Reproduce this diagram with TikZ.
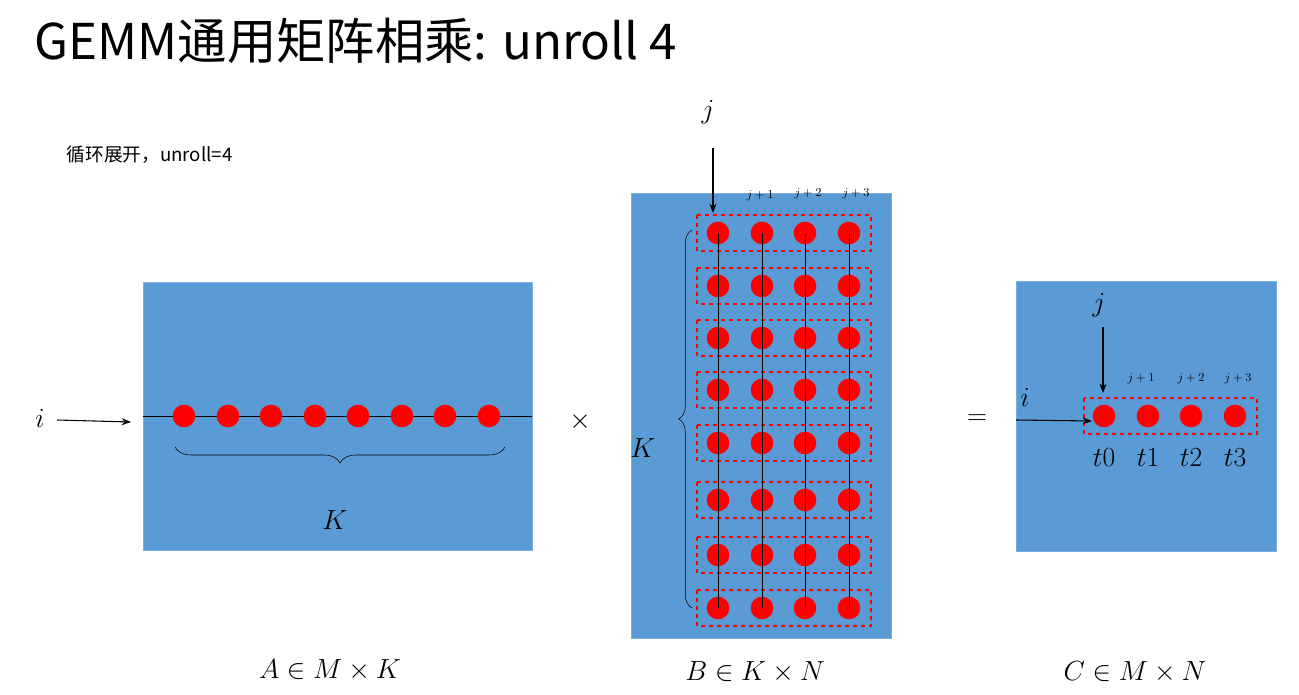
\documentclass[tikz,border=0pt]{standalone}
\usepackage{fontspec}
\setmainfont{Noto Sans CJK SC}
\usetikzlibrary{decorations.pathreplacing,arrows.meta}
\definecolor{mblue}{HTML}{5B9BD5}
\begin{document}
\begin{tikzpicture}[x=0.75pt,y=-0.75pt,
  mat/.style={fill=mblue,draw=mblue!80!white},
  dot/.style={circle,fill=red,inner sep=0pt,minimum size=17pt},
  dbox/.style={draw=red,dashed,thick},
  arr/.style={-{Stealth[length=7pt]},thick},
  lbl/.style={font=\fontsize{20}{22}\selectfont},
  sm/.style={font=\fontsize{9}{10}\selectfont}]
\useasboundingbox (0,0) rectangle (1299,695);
\node[anchor=base west,font=\fontsize{37}{40}\selectfont] (title) at (30,60) {GEMM通用矩阵相乘: unroll 4};
\node[anchor=base west,font=\fontsize{14}{16}\selectfont] (note) at (62,162) {循环展开，unroll=4};
% A
\node[mat,minimum width=389*0.75pt,minimum height=268*0.75pt,inner sep=0pt,anchor=north west] (A) at (143,282) {};
\draw (143,416) -- (532,416);
\foreach \x [count=\k] in {184,228,271,315,358,402,445,489}{\node[dot] (a\k) at (\x,416) {};}
\draw[decorate,decoration={brace,amplitude=12pt,mirror}] (175,447) -- (505,447);
\node[lbl] (KA) at (335,520) {$K$};
\node[lbl] (iA) at (40,418) {$i$};
\coordinate (iAe) at (131,422);
\draw[arr] (57,420) -- (iAe);
\node[lbl] (times) at (580,422) {$\times$};
% B
\node[mat,minimum width=260*0.75pt,minimum height=445*0.75pt,inner sep=0pt,anchor=north west] (B) at (631,193) {};
\foreach \y [count=\r] in {233,286,338,390,443,500,555,608}{
  \draw[dbox] (697,\y-18) rectangle (871,\y+18);
  \foreach \x [count=\c] in {718,762,805,849}{\node[dot] (b\r\c) at (\x,\y) {};}
}
\foreach \c in {1,2,3,4}{\draw (b1\c.center) -- (b8\c.center);}
\draw[decorate,decoration={brace,amplitude=10pt}] (692,608) -- (692,230);
\node[lbl] (KB) at (643,448) {$K$};
\node[lbl] (jB) at (708,112) {$j$};
\coordinate (jBs) at (713,148);
\draw[arr] (jBs) -- (713,213);
\node[sm] at (760,196) {$j+1$};
\node[sm] at (808,194) {$j+2$};
\node[sm] at (856,194) {$j+3$};
\node[lbl] (eq) at (977,420) {$=$};
% C
\node[mat,minimum width=260*0.75pt,minimum height=270*0.75pt,inner sep=0pt,anchor=north west] (C) at (1016,281) {};
\draw[dbox] (1084,398) rectangle (1257,434);
\foreach \x [count=\k] in {1104,1148,1191,1235}{\node[dot] (c\k) at (\x,416) {};}
\foreach \x [count=\k from 0] in {1104,1148,1191,1235}{\node[lbl] at (\x,458) {$t\k$};}
\node[lbl] (jC) at (1099,305) {$j$};
\draw[arr] (1103,327) -- (1103,393);
\node[sm] at (1141,379) {$j+1$};
\node[sm] at (1191,379) {$j+2$};
\node[sm] at (1238,379) {$j+3$};
\node[lbl] (iC) at (1025,397) {$i$};
\draw[arr] (1016,420) -- (1092,421);
\node[lbl] at (330,670) {$A\in M\times K$};
\node[lbl] at (755,672) {$B\in K\times N$};
\node[lbl] at (1135,672) {$C\in M\times N$};
\end{tikzpicture}
\end{document}
